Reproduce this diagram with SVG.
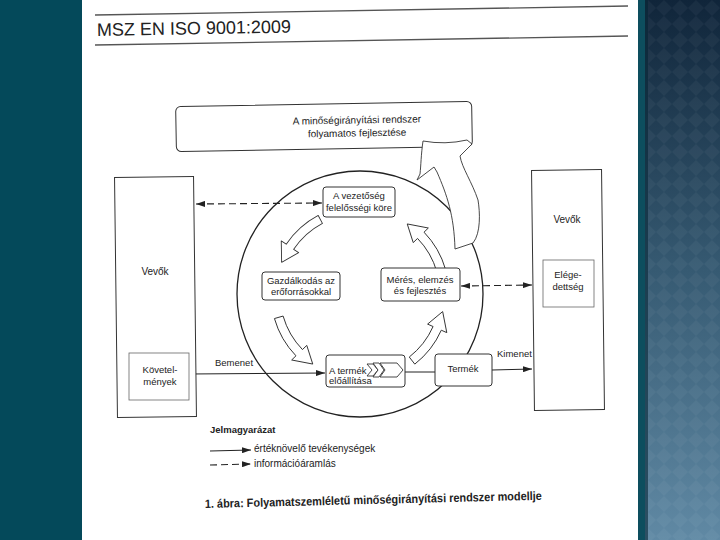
<svg xmlns="http://www.w3.org/2000/svg" xmlns:xlink="http://www.w3.org/1999/xlink" width="720" height="540" viewBox="0 0 720 540">
<defs>
<style>
.t{font-family:"Liberation Sans",Arial,sans-serif;fill:#222}
.n{font-size:9.5px;text-anchor:middle}
.box{fill:#fff;stroke:#333;stroke-width:1}
.thin{fill:none;stroke:#666;stroke-width:0.8}
.ln{fill:none;stroke:#222;stroke-width:1}
.dash{fill:none;stroke:#222;stroke-width:1.1;stroke-dasharray:7 4}
.hol{fill:#fff;stroke:#333;stroke-width:0.9;stroke-linejoin:round}
</style>
<marker id="ah" viewBox="0 0 9 6" refX="9" refY="3" markerWidth="9" markerHeight="6" markerUnits="userSpaceOnUse" orient="auto-start-reverse">
<path d="M0,0 L9,3 L0,6 z" fill="#222"/>
</marker>
<linearGradient id="rg" x1="0" y1="0" x2="0" y2="1">
<stop offset="0" stop-color="#10253a"/>
<stop offset="0.5" stop-color="#365a72"/>
<stop offset="1" stop-color="#6089a4"/>
</linearGradient>
<pattern id="dia" width="16" height="16" patternUnits="userSpaceOnUse">
<path d="M8,0 L16,8 L8,16 L0,8 z" fill="#ffffff" fill-opacity="0.04"/>
</pattern>
<path id="carr" d="M89,0 A89,89 0 0 0 78.58,-41.78 L83.88,-44.6 L64.73,-54.32 L65.34,-34.74 L70.64,-37.56 A80,80 0 0 1 80,0 Z"/>
</defs>

<g id="background">
<rect x="0" y="0" width="720" height="540" fill="#fff"/>
<rect x="0" y="0" width="82" height="540" fill="#04495a"/>
<rect x="638" y="0" width="82" height="540" fill="url(#rg)"/>
<rect x="648" y="0" width="72" height="540" fill="url(#dia)"/>
<rect x="638" y="0" width="7" height="540" fill="#0d4e5e"/>
<rect x="645" y="0" width="3" height="540" fill="#0a2a38" fill-opacity="0.6"/>
</g>

<g id="header">
<line x1="95" y1="15" x2="628" y2="6" stroke="#555" stroke-width="1.3"/>
<line x1="95" y1="45" x2="628" y2="36" stroke="#555" stroke-width="1.3"/>
<text class="t" x="97" y="36" font-size="18" transform="rotate(-1 97 36)">MSZ EN ISO 9001:2009</text>
</g>

<g id="node-improvement">
<g transform="rotate(-1 324 126)">
<rect class="box" x="176" y="104" width="296" height="45" rx="5"/>
<text class="t" x="357" y="124" font-size="10" text-anchor="middle">A minőségirányítási rendszer</text>
<text class="t" x="357" y="137" font-size="10" text-anchor="middle">folyamatos fejlesztése</text>
</g>
</g>

<g id="circle">
<circle cx="360" cy="294" r="123" fill="none" stroke="#222" stroke-width="1.3"/>
</g>

<g id="big-arrow">
<path class="hol" d="M423,141 C421,155 421,165 420,174 L417,180 L434,167 L437,172 C447,195 454,215 455,249 L473,243 C481,233 480,212 478,200 C472,182 462,168 460,156 L472,144 L467,140 Q445,145 423,141 Z"/>
</g>

<g id="connectors">
<line class="dash" x1="196" y1="204" x2="322" y2="203" marker-start="url(#ah)" marker-end="url(#ah)"/>
<line class="dash" x1="461" y1="286" x2="532" y2="285" marker-start="url(#ah)" marker-end="url(#ah)"/>
<line class="ln" x1="189" y1="374" x2="325" y2="373" marker-end="url(#ah)"/>
<line class="ln" x1="405" y1="372" x2="435" y2="372"/>
<line class="ln" x1="492" y1="370" x2="532" y2="369" marker-end="url(#ah)"/>
<text class="t" x="215" y="366" font-size="9.5">Bemenet</text>
<text class="t" x="497" y="357" font-size="9.5">Kimenet</text>
<use href="#carr" class="hol" transform="translate(360 294) rotate(-118)"/>
<use href="#carr" class="hol" transform="translate(360 294) rotate(-16)"/>
<use href="#carr" class="hol" transform="translate(360 294) rotate(164)"/>
<use href="#carr" class="hol" transform="translate(360 294) rotate(52)"/>
</g>

<g id="node-customers-left">
<rect class="box" x="116" y="177" width="79" height="240" transform="rotate(-0.7 155 297)"/>
<text class="t" x="155" y="275" font-size="10" text-anchor="middle">Vevők</text>
</g>

<g id="node-requirements">
<rect class="thin" x="129" y="353" width="60" height="47"/>
<text class="t n" x="160" y="373">Követel-</text>
<text class="t n" x="160" y="385">mények</text>
</g>

<g id="node-customers-right">
<rect class="box" x="533" y="170" width="70" height="240" transform="rotate(-0.7 568 290)"/>
<text class="t" x="567" y="223" font-size="10" text-anchor="middle">Vevők</text>
</g>

<g id="node-satisfaction">
<rect class="thin" x="543" y="260" width="51" height="47"/>
<text class="t n" x="568" y="278">Elége-</text>
<text class="t n" x="568" y="290">dettség</text>
</g>

<g id="node-management">
<rect class="box" x="323" y="187" width="72" height="30" rx="3"/>
<text class="t n" x="359" y="199">A vezetőség</text>
<text class="t n" x="359" y="211">felelősségi köre</text>
</g>

<g id="node-resources">
<rect class="box" x="262" y="272" width="78" height="28" rx="3"/>
<text class="t n" x="301" y="284">Gazdálkodás az</text>
<text class="t n" x="301" y="295">erőforrásokkal</text>
</g>

<g id="node-measurement">
<rect class="box" x="381" y="268" width="79" height="33" rx="3"/>
<text class="t n" x="420" y="283">Mérés, elemzés</text>
<text class="t n" x="420" y="294">és fejlesztés</text>
</g>

<g id="node-realization">
<rect class="box" x="326" y="355" width="79" height="32" rx="3"/>
<path class="hol" d="M367,364 L373,364 L378,370 L373,376 L367,376 L372,370 Z"/>
<path class="hol" d="M373,363 L379,363 L384,370 L379,377 L373,377 L378,370 Z"/>
<path class="hol" d="M380,363 L397,363 L403,370 L397,377 L380,377 L385,370 Z"/>
<text class="t" x="329" y="374" font-size="9.5">A termék</text>
<text class="t" x="329" y="384" font-size="9.5">előállítása</text>
</g>

<g id="node-product">
<rect class="box" x="435" y="354" width="57" height="32" rx="3"/>
<text class="t n" x="463" y="372">Termék</text>
</g>

<g id="legend">
<text class="t" x="210" y="433" font-size="9.5" font-weight="bold">Jelmagyarázat</text>
<line class="ln" x1="210" y1="451" x2="251" y2="450" marker-end="url(#ah)"/>
<text class="t" x="254" y="452" font-size="10">értéknövelő tevékenységek</text>
<line class="dash" x1="210" y1="465" x2="251" y2="464" stroke-dasharray="6 4" marker-end="url(#ah)"/>
<text class="t" x="254" y="467" font-size="10">információáramlás</text>
</g>

<g id="caption">
<text class="t" x="205" y="508" font-size="12" font-weight="bold" textLength="337" lengthAdjust="spacingAndGlyphs" transform="rotate(-1.4 205 508)">1. ábra: Folyamatszemléletű minőségirányítási rendszer modellje</text>
</g>
</svg>
